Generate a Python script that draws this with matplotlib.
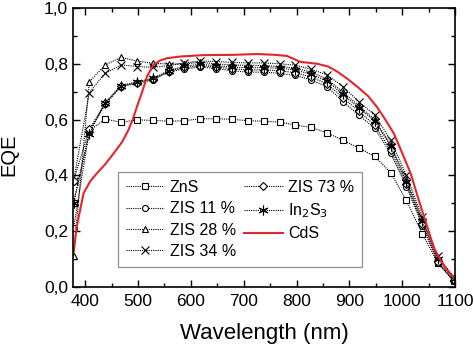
import matplotlib

matplotlib.use("Agg")
import matplotlib.pyplot as plt  # noqa: E402
from matplotlib.ticker import FuncFormatter, MultipleLocator  # noqa: E402

plt.rcParams["font.family"] = ["Liberation Sans", "DejaVu Sans"]

# sample wavelengths shared by the dotted series (nm)
wl = [378, 408, 438, 468, 498, 528, 558, 588, 618, 648, 678, 708, 738,
      768, 798, 828, 858, 888, 918, 948, 978, 1008, 1038, 1068, 1098]

zns = [0.30, 0.56, 0.602, 0.59, 0.599, 0.597, 0.594, 0.596, 0.603, 0.603,
       0.601, 0.596, 0.594, 0.591, 0.58, 0.572, 0.552, 0.526, 0.498, 0.468,
       0.41, 0.31, 0.19, 0.085, 0.02]
zis11 = [0.21, 0.56, 0.655, 0.718, 0.73, 0.742, 0.77, 0.782, 0.788, 0.783,
         0.775, 0.77, 0.77, 0.766, 0.758, 0.742, 0.718, 0.664, 0.616, 0.569,
         0.479, 0.36, 0.22, 0.085, 0.02]
zis28 = [0.11, 0.736, 0.796, 0.823, 0.81, 0.802, 0.799, 0.80, 0.805, 0.80,
         0.795, 0.795, 0.793, 0.79, 0.785, 0.77, 0.745, 0.698, 0.65, 0.60,
         0.51, 0.385, 0.24, 0.10, 0.03]
zis34 = [0.38, 0.697, 0.766, 0.796, 0.79, 0.787, 0.793, 0.803, 0.81, 0.808,
         0.805, 0.803, 0.803, 0.80, 0.795, 0.78, 0.76, 0.718, 0.664, 0.616,
         0.527, 0.40, 0.25, 0.11, 0.035]
zis73 = [0.38, 0.565, 0.66, 0.72, 0.732, 0.745, 0.773, 0.787, 0.793, 0.788,
         0.782, 0.778, 0.778, 0.775, 0.768, 0.752, 0.728, 0.678, 0.63, 0.58,
         0.49, 0.37, 0.225, 0.09, 0.025]
in2s3 = [0.30, 0.55, 0.66, 0.722, 0.735, 0.748, 0.775, 0.792, 0.798, 0.793,
         0.788, 0.786, 0.786, 0.784, 0.778, 0.762, 0.738, 0.69, 0.642, 0.595,
         0.505, 0.375, 0.235, 0.10, 0.03]

# CdS is a continuous curve
cds_wl = [378, 384, 397, 410, 422, 438, 454, 470, 482, 490, 498, 508, 517,
          529, 542, 555, 580, 623, 680, 725, 760, 782, 807, 839, 860, 877,
          895, 915, 935, 952, 968, 984, 1000, 1016, 1030, 1045, 1060, 1072,
          1085, 1098]
cds = [0.12, 0.216, 0.336, 0.38, 0.407, 0.44, 0.479, 0.52, 0.563, 0.60,
       0.646, 0.70, 0.754, 0.796, 0.812, 0.82, 0.826, 0.831, 0.832, 0.835,
       0.832, 0.828, 0.807, 0.80, 0.79, 0.772, 0.748, 0.718, 0.685, 0.646,
       0.60, 0.551, 0.48, 0.407, 0.32, 0.23, 0.14, 0.097, 0.06, 0.031]

series = [
    ("ZnS", zns, "s"),
    ("ZIS 11 %", zis11, "o"),
    ("ZIS 28 %", zis28, "^"),
    ("ZIS 34 %", zis34, "x"),
    ("ZIS 73 %", zis73, "D"),
    ("In$_2$S$_3$", in2s3, (6, 2, 0)),
]
msize = {"s": 4.3, "o": 4.3, "^": 5.0, "x": 6.0, "D": 4.0, (6, 2, 0): 7.0}

fig = plt.figure(figsize=(4.74, 3.47), dpi=100)
ax = fig.add_axes([0.154, 0.173, 0.806, 0.804])

for label, vals, mk in series:
    ax.plot(wl, vals, linestyle=(0, (1, 1)), color="black", lw=0.8,
            marker=mk, markersize=msize[mk], markerfacecolor="white",
            markeredgecolor="black", markeredgewidth=0.8, label=label)
ax.plot(cds_wl, cds, color="#e3262b", lw=1.5, label="CdS")

ax.set_xlim(377, 1100)
ax.set_ylim(0, 1.0)
ax.xaxis.set_major_locator(MultipleLocator(100))
ax.xaxis.set_minor_locator(MultipleLocator(50))
ax.yaxis.set_major_locator(MultipleLocator(0.2))
ax.yaxis.set_minor_locator(MultipleLocator(0.1))
ax.yaxis.set_major_formatter(FuncFormatter(lambda v, _: f"{v:.1f}".replace(".", ",")))
ax.tick_params(which="both", direction="in", top=True, right=True,
               labelsize=12.5, width=1.0)
ax.tick_params(which="major", length=5)
ax.tick_params(which="minor", length=3)
ax.tick_params(axis="x", pad=5)
for sp in ax.spines.values():
    sp.set_linewidth(1.2)

ax.set_xlabel("Wavelength (nm)", fontsize=16, labelpad=10)
ax.set_ylabel("EQE", fontsize=14.5, va="center")
ax.yaxis.set_label_coords(-0.168, 0.473)

leg = ax.legend(ncol=2, loc="lower left", bbox_to_anchor=(0.118, 0.072),
                borderaxespad=0, fontsize=11.5, frameon=True, fancybox=False,
                edgecolor="0.45", handlelength=2.4, handletextpad=0.35,
                columnspacing=0.5, labelspacing=0.4, borderpad=0.5)
leg.get_frame().set_linewidth(0.9)

fig.savefig("out.png", dpi=100)
